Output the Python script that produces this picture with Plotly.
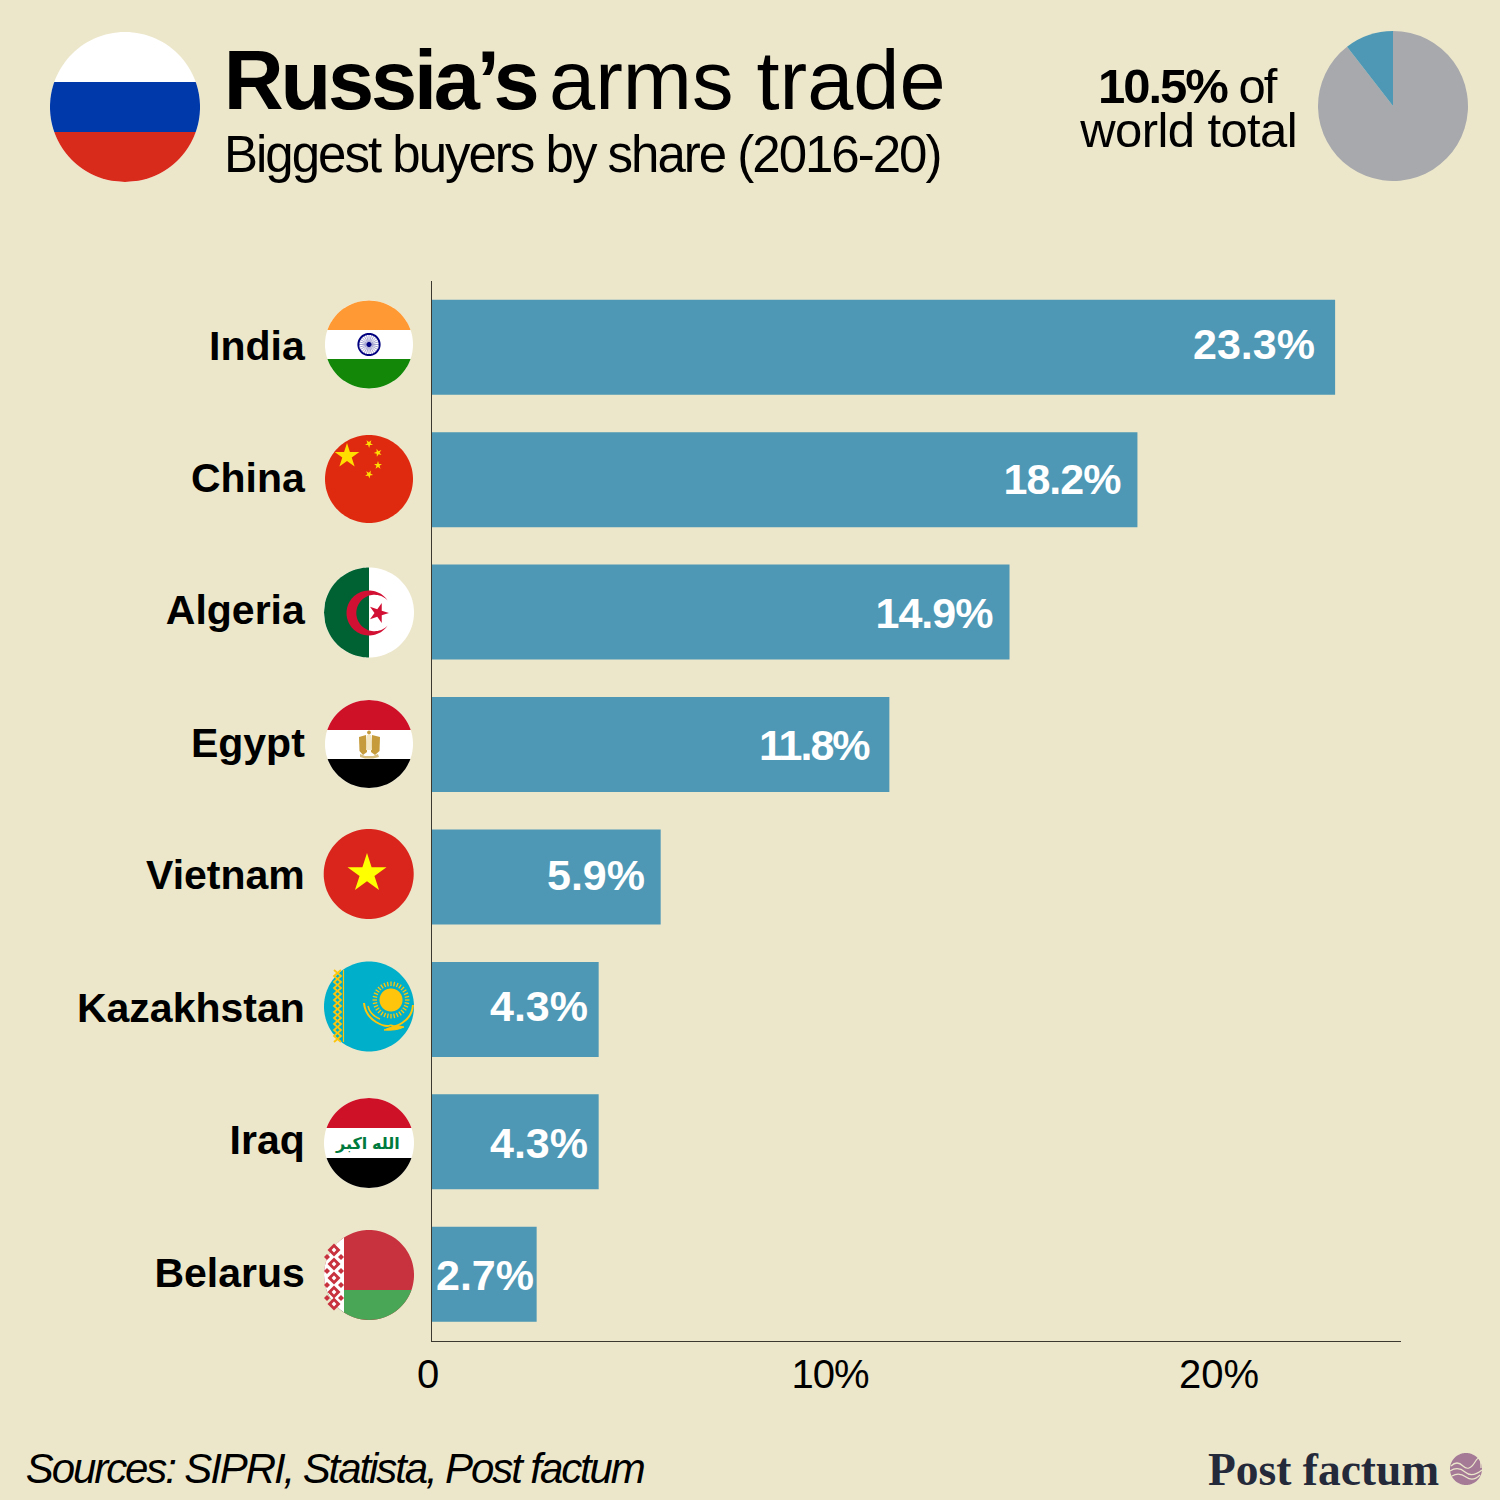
import json
import math
import plotly.graph_objects as go

# --- data ---
countries = ["India", "China", "Algeria", "Egypt", "Vietnam", "Kazakhstan", "Iraq", "Belarus"]
shares = [23.3, 18.2, 14.9, 11.8, 5.9, 4.3, 4.3, 2.7]
world_share = [89.5, 10.5]
world_labels = ["Rest of world", "Russia"]
axis_ticks = [0, 10, 20]
axis_tick_text = ["0", "10%", "20%"]

# --- styling ---
SANS = "Liberation Sans"
BG = "#ECE7CB"
BLUE = "#4E98B5"
GREY = "#A8A9AD"
INK = "#000000"
GOLD = "#FEC50C"

value_label_pad = [20, 14.5, 14.5, 15, 16, 11, 11, 3]
value_label_y = [344, 479, 613, 745, 875, 1006, 1143, 1275]
tick_label_shift = [-4, 10, 12]

TITLE_BOLD = "<b>Russia’s</b>"
TITLE_REST = "arms trade"
SUBTITLE = "Biggest buyers by share (2016-20)"
SOURCES = "<i>Sources: SIPRI, Statista, Post factum</i>"
WORLD_1 = "<b>10.5%</b> of"
WORLD_2 = "world total"

# letter spacing in px, applied once the annotations are drawn
tracking = {
    TITLE_BOLD: -3.2, SUBTITLE: -2.0, SOURCES: -2.1, WORLD_1: -2.0, WORLD_2: -0.6,
    "<b>18.2%</b>": -1.0, "<b>14.9%</b>": -1.0, "<b>11.8%</b>": -2.0,
    "10%": -1.0,
}

shapes = []
annotations = []


# --- small geometry helpers for the flag badges (page pixel space) ---
def poly(points):
    return "M" + " L".join(f"{x:.2f},{y:.2f}" for x, y in points) + " Z"


def line_path(points):
    return "M" + " L".join(f"{x:.2f},{y:.2f}" for x, y in points)


def add(path, fill=None, stroke=None, width=0):
    shapes.append(dict(
        type="path", path=path, xref="x2", yref="y2",
        fillcolor=fill if fill else "rgba(0,0,0,0)",
        line=dict(color=stroke if stroke else "rgba(0,0,0,0)", width=width),
    ))


def disc(cx, cy, r, fill=None, stroke=None, width=0):
    pts = [(cx + r * math.cos(i * math.pi / 60), cy + r * math.sin(i * math.pi / 60)) for i in range(120)]
    add(poly(pts), fill, stroke, width)


def band_h(cx, cy, r, y0, y1, fill):
    # horizontal slice of a disc between two page rows
    y0, y1 = max(y0, cy - r), min(y1, cy + r)
    rows = [y0 + (y1 - y0) * i / 40 for i in range(41)]
    half = [math.sqrt(max(r * r - (y - cy) ** 2, 0)) for y in rows]
    pts = [(cx + h, y) for h, y in zip(half, rows)] + [(cx - h, y) for h, y in zip(half[::-1], rows[::-1])]
    add(poly(pts), fill)


def band_v(cx, cy, r, x0, x1, fill):
    # vertical slice of a disc between two page columns
    x0, x1 = max(x0, cx - r), min(x1, cx + r)
    cols = [x0 + (x1 - x0) * i / 40 for i in range(41)]
    half = [math.sqrt(max(r * r - (x - cx) ** 2, 0)) for x in cols]
    pts = [(x, cy - h) for x, h in zip(cols, half)] + [(x, cy + h) for x, h in zip(cols[::-1], half[::-1])]
    add(poly(pts), fill)


def star(cx, cy, r, fill, tilt=0.0, inner=0.382):
    pts = []
    for i in range(10):
        rad = r if i % 2 == 0 else r * inner
        a = -math.pi / 2 + tilt + i * math.pi / 5
        pts.append((cx + rad * math.cos(a), cy + rad * math.sin(a)))
    add(poly(pts), fill)


def text(x, y, s, size, color=INK, anchor="center", family=SANS, **kw):
    annotations.append(dict(
        x=x, y=y, xref="x2", yref="y2", text=s, showarrow=False,
        xanchor=anchor, yanchor="middle", borderpad=0, borderwidth=0,
        font=dict(family=family, size=size, color=color), **kw,
    ))


# --- flags ---
def flag_russia():
    c = (125, 107, 75)
    disc(*c, "#FFFFFF")
    band_h(*c, 82, 132, "#0039A9")
    band_h(*c, 132, 183, "#D92B1C")


def flag_india():
    c = (369, 344.5, 44)
    disc(*c, "#FFFFFF")
    band_h(*c, 299, 330, "#FF9933")
    band_h(*c, 359, 390, "#138808")
    for i in range(12):
        a = i * math.pi / 12
        dx, dy = 10 * math.cos(a), 10 * math.sin(a)
        add(line_path([(369 - dx, 344.5 - dy), (369 + dx, 344.5 + dy)]), stroke="#8F8FC8", width=0.8)
    disc(369, 344.5, 10.6, None, "#000080", 2)
    disc(369, 344.5, 2.5, "#000080")


def flag_china():
    c = (369, 479, 44)
    disc(*c, "#E02A10")
    star(347, 456, 13, "#FFDE00")
    star(369, 443.7, 4.2, "#FFDE00", 0.6)
    star(378, 452.7, 4.2, "#FFDE00", 0.9)
    star(378, 465.3, 4.2, "#FFDE00", 0.0)
    star(369, 474.3, 4.2, "#FFDE00", 0.5)


def flag_algeria():
    c = (369, 612.5, 45)
    disc(*c, "#FFFFFF")
    band_v(*c, 320, 369, "#006233")
    # crescent: lune between an outer and an inner circle
    ox, oy, orad = 369, 613, 22.5
    ix, irad = 374.5, 18.2
    d = ix - ox
    cos_t = (d * d + orad * orad - irad * irad) / (2 * d * orad)
    t = math.acos(cos_t)
    outer = [(ox + orad * math.cos(t + (2 * math.pi - 2 * t) * i / 60),
              oy + orad * math.sin(t + (2 * math.pi - 2 * t) * i / 60)) for i in range(61)]
    ti = math.atan2(orad * math.sin(t), orad * math.cos(t) - d)
    inner = [(ix + irad * math.cos(-ti - (2 * math.pi - 2 * ti) * i / 60),
              oy + irad * math.sin(-ti - (2 * math.pi - 2 * ti) * i / 60)) for i in range(61)]
    add(poly(outer + inner), "#D21034")
    star(378.5, 613, 10.5, "#D21034", math.pi / 2)


def flag_egypt():
    c = (369, 744, 44)
    disc(*c, "#FFFFFF")
    band_h(*c, 699, 730, "#CE1126")
    band_h(*c, 759, 789, "#000000")
    gold = "#C59B3C"
    add(poly([(359, 737), (366, 735), (367, 752), (363, 755), (359.5, 751)]), gold)
    add(poly([(380, 737), (372, 735), (371, 752), (375, 755), (379.5, 751)]), gold)
    disc(369, 732.5, 1.9, gold)
    add(poly([(367, 735), (371, 735), (372, 750), (366, 750)]), "#F3E7C4")
    add(poly([(360, 754), (365, 756), (373, 756), (378, 754), (379, 757), (373, 758.5), (365, 758.5), (360, 757)]), "#D7BE7E")


def flag_vietnam():
    c = (368.7, 874, 45)
    disc(*c, "#DA251D")
    star(367, 873.5, 20.5, "#FFFF00")


def flag_kazakhstan():
    cx, cy, r = 369, 1006.5, 45
    disc(cx, cy, r, "#00AFCA")
    # hoist ornament
    ys = [970 + i * 6 for i in range(13)]
    left = [(334 + (i % 2) * 7, y) for i, y in enumerate(ys)]
    right = [(341 - (i % 2) * 7, y) for i, y in enumerate(ys)]
    add(line_path(left), stroke=GOLD, width=1.8)
    add(line_path(right), stroke=GOLD, width=1.8)
    add(line_path([(343.5, 970), (343.5, 1042)]), stroke=GOLD, width=1.2)
    # sun and rays
    disc(391, 1000, 11.5, GOLD)
    for i in range(32):
        a = i * math.pi / 16
        add(line_path([(391 + 14 * math.cos(a), 1000 + 14 * math.sin(a)),
                       (391 + 18.5 * math.cos(a), 1000 + 18.5 * math.sin(a))]), stroke=GOLD, width=1.3)
    # eagle wings
    add("M364,1003 Q365,1015 376,1022 Q386,1028 391,1025", stroke=GOLD, width=2)
    add("M368,1006 Q370,1015 380,1019", stroke=GOLD, width=1.5)
    add("M413,1005 Q412,1017 402,1023 Q394,1028 391,1025", stroke=GOLD, width=2)
    add("M384,1030 Q396,1024 404,1027 Q396,1031 384,1030 Z", fill=GOLD, stroke=GOLD, width=1)


def flag_iraq():
    c = (369, 1143, 45)
    disc(*c, "#FFFFFF")
    band_h(*c, 1097, 1128, "#CE1126")
    band_h(*c, 1158, 1189, "#000000")
    text(351, 1143, "<b>اكبر</b>", 16, "#007A3D", "center", "DejaVu Sans")
    text(386, 1143, "<b>الله</b>", 16, "#007A3D", "center", "DejaVu Sans")


def flag_belarus():
    cx, cy, r = 369, 1275, 45
    disc(cx, cy, r, "#C8313E")
    band_h(cx, cy, r, 1290, 1321, "#4AA657")
    band_v(cx, cy, r, 323.5, 344, "#FFFFFF")
    red = "#C8313E"
    for y in (1250, 1264, 1278, 1292, 1304):
        s = 6.5
        add(poly([(334, y - s), (334 + s, y), (334, y + s), (334 - s, y)]), red)
        add(poly([(334, y - 2.4), (336.4, y), (334, y + 2.4), (331.6, y)]), "#FFFFFF")
    for y in (1257, 1271, 1285, 1298):
        add(poly([(327, y - 3), (330, y), (327, y + 3), (324, y)]), red)
        add(poly([(341, y - 3), (344, y), (341, y + 3), (338, y)]), red)


for draw in (flag_russia, flag_india, flag_china, flag_algeria, flag_egypt,
             flag_vietnam, flag_kazakhstan, flag_iraq, flag_belarus):
    draw()

# --- publisher mark ---
disc(1466, 1469, 16, "#A47A96")
add("M1451,1466 Q1457,1460 1463,1466 T1475,1462 T1481,1468", stroke=BG, width=1.2)
add("M1450,1471 Q1458,1466 1465,1472 T1482,1470", stroke=BG, width=1.2)
add("M1452,1476 Q1459,1472 1466,1477 T1480,1475", stroke=BG, width=1.2)

# --- headings and footers ---
text(379.5, 80, TITLE_BOLD, 83)
text(747.5, 80, TITLE_REST, 83)
text(582, 154, SUBTITLE, 51)
text(1187, 86, WORLD_1, 49)
text(1187.5, 130, WORLD_2, 49)
text(335, 1468, SOURCES, 42)
text(1323, 1469, "<b>Post factum</b>", 45.5, "#252A3A", family="Liberation Serif")

# --- value labels inside the bars ---
for value, pad, ypx in zip(shares, value_label_pad, value_label_y):
    annotations.append(dict(
        x=value, xref="x", y=ypx, yref="y2", text=f"<b>{value}%</b>", showarrow=False,
        xanchor="right", yanchor="middle", xshift=-pad, borderpad=0, borderwidth=0,
        font=dict(family=SANS, size=43, color="#FFFFFF"),
    ))

# --- horizontal axis labels ---
for tick, label, shift in zip(axis_ticks, axis_tick_text, tick_label_shift):
    annotations.append(dict(
        x=tick, xref="x", y=1374, yref="y2", text=label, showarrow=False,
        xanchor="center", yanchor="middle", xshift=shift, borderpad=0, borderwidth=0,
        font=dict(family=SANS, size=40, color=INK),
    ))

fig = go.Figure()
fig.add_trace(go.Bar(
    x=shares, y=countries, orientation="h",
    marker=dict(color=BLUE, line=dict(width=0)),
    width=0.717, hoverinfo="skip", showlegend=False,
))
fig.add_trace(go.Pie(
    values=world_share, labels=world_labels, sort=False,
    direction="clockwise", rotation=0,
    marker=dict(colors=[GREY, BLUE], line=dict(width=0)),
    textinfo="none", hoverinfo="skip", showlegend=False,
    domain=dict(x=[1318 / 1500, 1468 / 1500], y=[1 - 181 / 1500, 1 - 31 / 1500]),
))

fig.update_layout(
    width=1500, height=1500,
    autosize=False,
    margin=dict(l=0, r=0, t=0, b=0),
    paper_bgcolor=BG, plot_bgcolor="rgba(0,0,0,0)",
    showlegend=False,
    shapes=shapes,
    annotations=annotations,
    xaxis=dict(
        domain=[432 / 1500, 1401 / 1500], range=[0, 25], anchor="y",
        showgrid=False, zeroline=False, showticklabels=False, ticks="",
        showline=True, linecolor="#3C3A30", linewidth=1, tickvals=axis_ticks,
    ),
    yaxis=dict(
        domain=[1 - 1340.5 / 1500, 1 - 281 / 1500], range=[7.5, -0.5], anchor="x",
        type="category", categoryorder="array", categoryarray=countries,
        showgrid=False, zeroline=False, ticks="",
        showline=True, linecolor="#3C3A30", linewidth=1,
        ticklabelstandoff=118,
        ticklabelshift=2,
        tickfont=dict(family=SANS, size=41, color=INK, weight=700),
    ),
    # page-pixel axes for the badges and headings
    xaxis2=dict(domain=[0, 1], range=[0, 1500], anchor="y2", visible=False, fixedrange=True),
    yaxis2=dict(domain=[0, 1], range=[1500, 0], anchor="x2", visible=False, fixedrange=True),
)

tighten = """
var gd = document.getElementById('{plot_id}');
var spacing = %s;
gd.querySelectorAll('.annotation-text').forEach(function (t) {
  var key = t.getAttribute('data-unformatted');
  if (spacing[key] !== undefined) { t.style.letterSpacing = spacing[key] + 'px'; }
});
""" % json.dumps(tracking, ensure_ascii=False)

fig.write_html("out.html", config={"displayModeBar": False}, post_script=tighten)
